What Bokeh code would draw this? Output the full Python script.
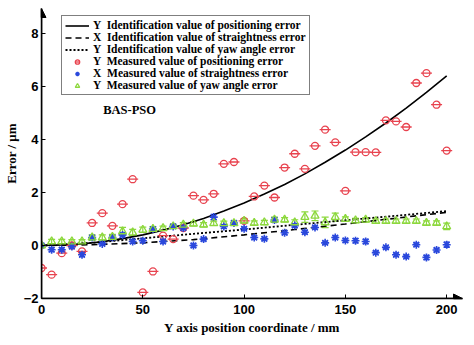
from bokeh.plotting import figure
from bokeh.models import (ColumnDataSource, Whisker, TeeHead, Legend, LegendItem,
                          Arrow, NormalHead, Label, FixedTicker, BoxAnnotation)
from bokeh.embed import file_html
from bokeh.resources import INLINE

# ---------------- data ----------------
pos = [0, 5, 10, 15, 20, 25, 30, 35, 40, 45, 50, 55, 60, 65, 70, 75, 80, 85, 90, 95,
       100, 105, 110, 115, 120, 125, 130, 135, 140, 145, 150, 155, 160, 165, 170, 175,
       180, 185, 190, 195, 200]

meas_positioning = [-0.85, -1.10, -0.29, 0.00, -0.22, 0.85, 1.22, 0.74, 1.56, 2.50,
                    -1.77, -0.98, 0.37, 0.24, 0.66, 1.88, 1.72, 1.95, 3.08, 3.15,
                    0.93, 1.85, 2.26, 1.81, 2.94, 3.46, 2.89, 3.76, 4.37, 3.89,
                    2.06, 3.52, 3.52, 3.51, 4.72, 4.68, 4.47, 6.13, 6.50, 5.31, 3.58]

meas_straightness = [0.00, -0.16, -0.16, -0.04, -0.35, 0.30, 0.06, 0.30, 0.40, 0.15,
                     0.18, 0.62, 0.15, 0.72, 0.66, 0.00, 0.24, 1.07, 0.72, 0.85,
                     0.63, 0.30, 0.25, 0.96, 0.48, 0.75, 0.50, 0.68, 0.10, 0.30,
                     0.19, 0.18, 0.15, -0.27, -0.07, -0.35, -0.42, 0.03, -0.45, -0.17, 0.03]
err_straightness = [0.06, 0.07, 0.07, 0.06, 0.07, 0.06, 0.06, 0.06, 0.08, 0.07,
                    0.07, 0.06, 0.06, 0.08, 0.06, 0.06, 0.06, 0.10, 0.07, 0.06,
                    0.06, 0.06, 0.06, 0.08, 0.06, 0.07, 0.06, 0.06, 0.06, 0.06,
                    0.06, 0.08, 0.08, 0.06, 0.06, 0.06, 0.06, 0.06, 0.08, 0.06, 0.10]

meas_yaw = [0.00, 0.15, 0.15, 0.15, 0.15, 0.30, 0.30, 0.32, 0.53, 0.49,
            0.59, 0.62, 0.65, 0.72, 0.78, 0.82, 0.78, 0.84, 0.84, 0.84,
            0.93, 0.85, 0.87, 0.97, 0.97, 0.87, 1.07, 1.12, 0.87, 1.07,
            1.00, 0.94, 0.97, 0.92, 0.92, 0.92, 0.92, 0.92, 0.85, 0.85, 0.72]
err_yaw = [0.05, 0.08, 0.08, 0.07, 0.07, 0.10, 0.10, 0.10, 0.15, 0.12,
           0.10, 0.08, 0.08, 0.08, 0.08, 0.08, 0.08, 0.08, 0.08, 0.08,
           0.08, 0.08, 0.08, 0.10, 0.08, 0.10, 0.20, 0.18, 0.20, 0.15,
           0.08, 0.08, 0.08, 0.08, 0.08, 0.08, 0.08, 0.08, 0.08, 0.08, 0.12]

curve_pos = [0, 10, 20, 30, 40, 50, 60, 70, 80, 90, 100, 110, 120, 130, 140, 150,
             160, 170, 180, 190, 200]
ident_positioning = [0.00, 0.02, 0.06, 0.14, 0.26, 0.40, 0.58, 0.78, 1.02, 1.30, 1.60,
                     1.94, 2.30, 2.70, 3.14, 3.60, 4.10, 4.62, 5.18, 5.78, 6.40]
curve_pos2 = [0, 25, 50, 75, 100, 125, 150, 175, 200]
ident_straightness = [0.00, 0.03, 0.10, 0.22, 0.40, 0.60, 0.81, 1.03, 1.25]
ident_yaw = [0.00, 0.10, 0.27, 0.44, 0.60, 0.78, 0.95, 1.12, 1.30]

x_ticks = [0, 50, 100, 150, 200]
y_ticks = [-2, 0, 2, 4, 6, 8]

RED = "#e8424e"
BLUE = "#2a48dc"
GREEN = "#8cd83c"
SERIF = "Liberation Serif"
SANS = "Liberation Sans"

# ---------------- figure ----------------
p = figure(width=474, height=345, x_range=(0, 207.8), y_range=(-2, 8.94),
           output_backend="svg", toolbar_location=None,
           min_border_left=35, min_border_right=12, min_border_top=8,
           min_border_bottom=47)
p.outline_line_color = None
p.grid.visible = False
p.background_fill_color = "white"
p.border_fill_color = "white"

for ax in (p.xaxis, p.yaxis):
    ax.major_tick_in = 4
    ax.major_tick_out = 0
    ax.minor_tick_line_color = None
    ax.axis_line_width = 1.5
    ax.major_tick_line_width = 1
    ax.major_label_text_font = SANS
    ax.major_label_text_font_style = "bold"
    ax.major_label_text_font_size = "13px"
    ax.major_label_text_color = "black"
    ax.axis_label_text_font = SERIF
    ax.axis_label_text_font_style = "bold"
    ax.axis_label_text_font_size = "13px"
    ax.axis_label_text_color = "black"

p.xaxis.ticker = FixedTicker(ticks=x_ticks)
p.yaxis.ticker = FixedTicker(ticks=y_ticks)
p.xaxis.axis_label = "Y axis position coordinate / mm"
p.yaxis.axis_label = "Error / \u03bcm"
p.xaxis.major_label_standoff = 6
p.xaxis.axis_label_standoff = 3
p.yaxis.major_label_standoff = 3
p.yaxis.axis_label_standoff = 2

# photo frame of the original figure (grey edges)
for l, r, t, b, c in [(0, 3, 0, 345, "#9a9a9a"), (0, 474, 0, 3, "#a8a8a8"),
                      (0, 474, 341, 345, "#e2e2e2")]:
    p.add_layout(BoxAnnotation(left=l, right=r, top=t, bottom=b,
                               left_units="canvas", right_units="canvas",
                               top_units="canvas", bottom_units="canvas",
                               fill_color=c, fill_alpha=1.0, line_color=None,
                               level="overlay"))

# axis arrows
p.add_layout(Arrow(end=NormalHead(size=9, fill_color="black", line_color="black"),
                   x_start=0, y_start=-2, x_end=0, y_end=8.94,
                   line_color="black", line_width=1.5))
p.add_layout(Arrow(end=NormalHead(size=9, fill_color="black", line_color="black"),
                   x_start=0, y_start=-2, x_end=207.8, y_end=-2,
                   line_color="black", line_width=1.5))

# ---------------- identification curves ----------------
r_l1 = p.line(curve_pos, ident_positioning, line_color="black", line_width=1.6)
r_l2 = p.line(curve_pos2, ident_straightness, line_color="black", line_width=1.6,
              line_dash="6 4")
r_l3 = p.line(curve_pos2, ident_yaw, line_color="black", line_width=1.8,
              line_dash="2 2")

# ---------------- measured ----------------
src_b = ColumnDataSource(dict(x=pos, y=meas_straightness,
                              lo=[v - e for v, e in zip(meas_straightness, err_straightness)],
                              hi=[v + e for v, e in zip(meas_straightness, err_straightness)]))
src_g = ColumnDataSource(dict(x=pos, y=meas_yaw,
                              lo=[v - e for v, e in zip(meas_yaw, err_yaw)],
                              hi=[v + e for v, e in zip(meas_yaw, err_yaw)]))
src_r = ColumnDataSource(dict(x=pos, y=meas_positioning))

p.add_layout(Whisker(source=src_b, base="x", lower="lo", upper="hi",
                     line_color=BLUE, line_width=1.2,
                     upper_head=TeeHead(size=6, line_color=BLUE, line_width=1.2),
                     lower_head=TeeHead(size=6, line_color=BLUE, line_width=1.2)))
p.add_layout(Whisker(source=src_g, base="x", lower="lo", upper="hi",
                     line_color=GREEN, line_width=1.2,
                     upper_head=TeeHead(size=7, line_color=GREEN, line_width=1.2),
                     lower_head=TeeHead(size=7, line_color=GREEN, line_width=1.2)))

r_r1 = p.scatter("x", "y", source=src_r, marker="circle", size=7, fill_color=None,
                 line_color=RED, line_width=1.3)
r_r2 = p.scatter("x", "y", source=src_r, marker="dash", size=11,
                 line_color=RED, line_width=1.3)
r_b = p.scatter("x", "y", source=src_b, marker="asterisk", size=8,
                line_color=BLUE, line_width=1.6)
r_g = p.scatter("x", "y", source=src_g, marker="triangle", size=8, fill_color=None,
                line_color=GREEN, line_width=1.3)

# ---------------- legend ----------------
legend = Legend(items=[
    LegendItem(label="Y  Identification value of positioning error", renderers=[r_l1]),
    LegendItem(label="X  Identification value of straightness error", renderers=[r_l2]),
    LegendItem(label="Y  Identification value of yaw angle error", renderers=[r_l3]),
    LegendItem(label="Y  Measured value of positioning error", renderers=[r_r1, r_r2]),
    LegendItem(label="X  Measured value of straightness error", renderers=[r_b]),
    LegendItem(label="Y  Measured value of yaw angle error", renderers=[r_g]),
], location=(20, 203))
legend.label_text_font = SERIF
legend.label_text_font_style = "bold"
legend.label_text_font_size = "11.5px"
legend.label_text_color = "black"
legend.label_height = 11
legend.label_standoff = 4
legend.glyph_height = 11
legend.glyph_width = 24
legend.spacing = 0
legend.padding = 3
legend.margin = 0
legend.border_line_color = "black"
legend.border_line_width = 1.5
legend.background_fill_alpha = 1.0
p.add_layout(legend)

p.add_layout(Label(x=43.5, y=5.1, text="BAS-PSO", text_align="center",
                   text_baseline="middle", text_font=SERIF, text_font_style="bold",
                   text_font_size="12.5px", text_color="black"))

open("out.html", "w").write(file_html(p, INLINE))
